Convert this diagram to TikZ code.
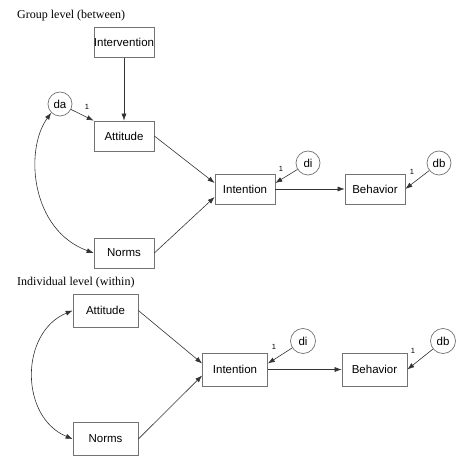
\documentclass[tikz,border=0pt]{standalone}
\usepackage{fontspec}
\setmainfont{Liberation Serif}
\newfontfamily\boxfont{Liberation Sans}
\usetikzlibrary{arrows.meta}

\begin{document}
\begin{tikzpicture}[x=1pt,y=-1pt,
    obs/.style={draw=black!55,line width=0.7pt,inner sep=0pt,
      minimum width=60pt,minimum height=30pt,font=\boxfont\fontsize{11.5}{13}\selectfont},
    obsw/.style={obs,minimum width=65pt,minimum height=33pt},
    res/.style={circle,draw=black!55,line width=0.7pt,inner sep=0pt,
      minimum size=24pt,font=\boxfont\fontsize{11.5}{13}\selectfont},
    one/.style={inner sep=0pt,font=\boxfont\fontsize{7.5}{8}\selectfont},
    ttl/.style={anchor=west,inner sep=0pt,font=\fontsize{12}{14}\selectfont},
    path/.style={draw=black!80,line width=0.6pt,-{Latex[length=7pt,width=5pt]}},
    both/.style={{Latex[length=7pt,width=5pt]}-{Latex[length=7pt,width=5pt]}}]
  \useasboundingbox (0,0) rectangle (474,457);

  % group level
  \draw
    (17,16) node[ttl] (gttl){Group level (between)}
    (124,42.5) node[obs] (int0){Intervention}
    (124,136) node[obs] (att1){Attitude}
    (124,253) node[obs] (nor1){Norms}
    (245,189) node[obs] (int1){Intention}
    (375,189) node[obs] (beh1){Behavior}
    (60,104) node[res] (da1){da}
    (308,163) node[res] (di1){di}
    (439,163) node[res] (db1){db}
    (87,107) node[one] (one1){1}
    (281,169) node[one] (one2){1}
    (412,172) node[one] (one3){1};
  \begin{scope}[path]
    \draw (int0) to (att1);
    \draw (da1) to (att1.north west);
    \draw (att1.east) to ([yshift=6pt]int1.west);
    \draw (nor1.east) to ([yshift=-8pt]int1.west);
    \draw (int1) to (beh1);
    \draw (di1) to ([yshift=6pt]int1.east);
    \draw (db1) to (beh1.east);
    \draw[both] (da1.south west)
      .. controls +(-27,37) and +(-63,-23) .. (nor1.west);
  \end{scope}

  % individual level
  \draw
    (17,283) node[ttl] (wttl){Individual level (within)}
    (105.5,310.5) node[obsw] (att2){Attitude}
    (105.5,439) node[obsw] (nor2){Norms}
    (235,369.5) node[obsw] (int2){Intention}
    (374.5,369.5) node[obsw] (beh2){Behavior}
    (303,341) node[res,minimum size=25pt] (di2){di}
    (443,341) node[res,minimum size=25pt] (db2){db}
    (274,347) node[one] (one4){1}
    (413,351) node[one] (one5){1};
  \begin{scope}[path]
    \draw (att2.east) to ([yshift=6pt]int2.west);
    \draw (nor2.east) to ([yshift=-6pt]int2.west);
    \draw (int2) to (beh2);
    \draw (di2) to ([yshift=6pt]int2.east);
    \draw (db2) to (beh2.east);
    \draw[both] (att2.west)
      .. controls +(-53,22) and +(-53,-22) .. (nor2.west);
  \end{scope}
\end{tikzpicture}
\end{document}
